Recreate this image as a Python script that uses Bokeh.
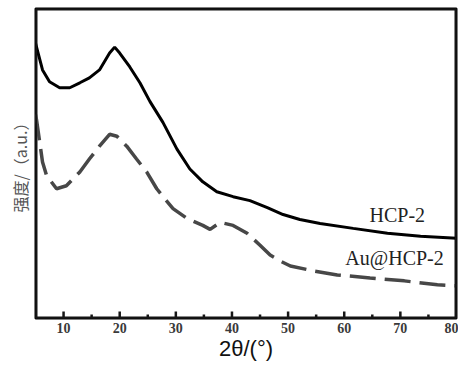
from bokeh.plotting import figure
from bokeh.models import Label, Range1d, FixedTicker, BoxAnnotation
from bokeh.embed import file_html
from bokeh.resources import INLINE

# ---- data (intensity in arbitrary units) ----
hcp_2theta = [5.0, 6.25, 7.5, 9.3, 11.1, 12.9, 14.6, 16.4, 18.2, 19.1, 20.0, 21.8, 23.6,
              25.4, 27.7, 30.2, 32.5, 34.8, 37.3, 40.2, 43.2, 46.3, 49.1, 52.1, 55.7,
              61.6, 67.7, 73.6, 80.0]
hcp_int = [278, 251, 239, 233, 233, 238, 243, 251, 268, 274, 268, 254, 238,
           219, 198, 171, 151, 138, 128, 123, 119, 112, 105, 100, 96,
           91, 86, 83, 81]

au_2theta = [5.0, 5.2, 6.25, 7.0, 8.75, 10.5, 12.9, 14.6, 16.4, 18.2, 19.5, 21.25, 23.0,
             24.8, 26.6, 28.0, 29.5, 32.0, 34.8, 36.1, 37.9, 40.2, 42.7, 45.0, 46.8,
             48.6, 50.4, 54.6, 58.75, 64.6, 70.7, 76.6, 80.0]
au_int = [206, 200, 158, 144, 131, 134, 148, 161, 174, 186, 184, 174, 161,
          148, 131, 121, 111, 101, 94, 90, 97, 94, 86, 74, 64,
          58, 53, 48, 44, 41, 38, 34, 33]

major_ticks = [10, 20, 30, 40, 50, 60, 70, 80]
minor_ticks = [15, 25, 35, 45, 55, 65, 75]

series_names = ["HCP-2", "Au@HCP-2"]
x_title = "2θ/(°)"
y_title = "强度/（a.u.）"
x_min, x_max = 5, 80
y_min, y_max = 0, 313

p = figure(width=458, height=363, output_backend="svg", toolbar_location=None,
           x_range=Range1d(x_min, x_max), y_range=Range1d(y_min, y_max),
           min_border_left=35, min_border_right=2, min_border_top=8, min_border_bottom=44)

p.xgrid.visible = False
p.ygrid.visible = False
p.background_fill_color = "white"
p.border_fill_color = "white"
p.outline_line_color = "black"
p.outline_line_width = 2

# left axis: only the title
ya = p.yaxis[0]
ya.ticker = FixedTicker(ticks=[])
ya.axis_line_color = None
ya.major_tick_out = 0
ya.major_tick_in = 0
ya.minor_tick_out = 0
ya.minor_tick_in = 0
ya.major_label_standoff = 0
ya.axis_label = y_title
ya.axis_label_text_font = "Noto Sans CJK SC"
ya.axis_label_text_font_style = "normal"
ya.axis_label_text_font_size = "16px"
ya.axis_label_text_color = "#555555"
ya.axis_label_standoff = 4

# bottom axis: tick labels and title
ax = p.xaxis[0]
ax.ticker = FixedTicker(ticks=major_ticks)
ax.axis_line_color = None
ax.major_tick_line_color = None
ax.minor_tick_line_color = None
ax.major_tick_in = 0
ax.major_tick_out = 0
ax.minor_tick_in = 0
ax.minor_tick_out = 0
ax.major_label_text_font = "Liberation Serif"
ax.major_label_text_font_size = "14px"
ax.major_label_text_font_style = "bold"
ax.major_label_text_color = "#3a3a3a"
ax.major_label_standoff = 4
ax.axis_label = x_title
ax.axis_label_text_font = "Liberation Sans"
ax.axis_label_text_font_style = "normal"
ax.axis_label_text_font_size = "22px"
ax.axis_label_text_color = "#111111"
ax.axis_label_standoff = 0

frame_color = "#151515"
# frame box as an unfilled box annotation spanning the whole frame
p.add_layout(BoxAnnotation(left=x_min, right=x_max, bottom=y_min, top=y_max,
                           fill_color=None, fill_alpha=0, line_color=frame_color,
                           line_alpha=1, line_width=3, level="overlay"))

# frame box also as line glyphs along the range limits
p.line([x_min, x_max], [y_min, y_min], line_color=frame_color, line_width=4)
p.line([x_min, x_max], [y_max, y_max], line_color=frame_color, line_width=4)
p.line([x_min, x_min], [y_min, y_max], line_color=frame_color, line_width=4)
p.line([x_max, x_max], [y_min, y_max], line_color=frame_color, line_width=4)

# inward tick marks on the bottom edge
major_len = 7
minor_len = 4
p.multi_line(xs=[[t, t] for t in major_ticks],
             ys=[[y_min, y_min + major_len] for _ in major_ticks],
             line_color=frame_color, line_width=2.5)
p.multi_line(xs=[[t, t] for t in minor_ticks],
             ys=[[y_min, y_min + minor_len] for _ in minor_ticks],
             line_color=frame_color, line_width=2.5)

p.line(hcp_2theta, hcp_int, line_color="black", line_width=3)
p.line(au_2theta, au_int, line_color="#474747", line_width=3.5, line_dash="26 9")

p.add_layout(Label(x=64.5, y=104, text=series_names[0], text_font="Liberation Serif",
                   text_font_size="20px", text_color="#222222", text_baseline="middle"))
p.add_layout(Label(x=60.2, y=61, text=series_names[1], text_font="Liberation Serif",
                   text_font_size="20px", text_color="#222222", text_baseline="middle"))

open("out.html", "w").write(file_html(p, INLINE))
